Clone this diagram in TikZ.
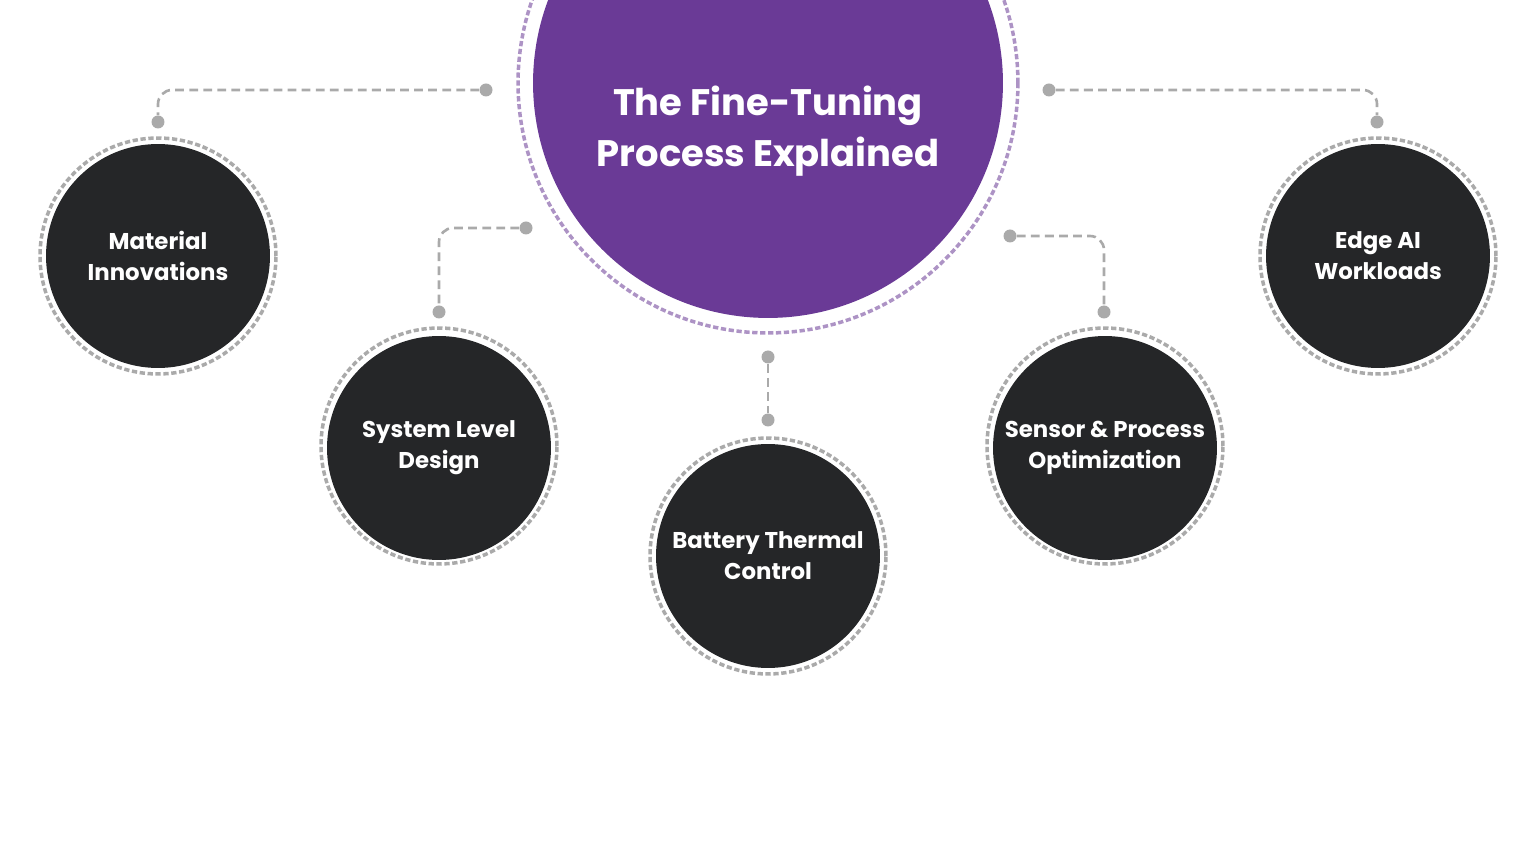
\documentclass[tikz,border=0pt]{standalone}
\usepackage{fontspec}
\setmainfont{Poppins}[BoldFont={* Bold}]
\usetikzlibrary{positioning}
\definecolor{hubpurple}{HTML}{6A3A96}
\definecolor{topicdark}{HTML}{252628}
\definecolor{linkgray}{HTML}{AAAAAA}

\begin{document}
\begin{tikzpicture}[
        x=0.02cm, y=-0.02cm,
        hub/.style={circle, fill=hubpurple, minimum size=9.4cm, inner sep=0pt},
        hubring/.style={circle, draw=hubpurple!55, line width=2pt, dash pattern=on 3pt off 1.5pt, minimum size=10cm, inner sep=0pt},
        title/.style={align=center, text=white, font=\bfseries\fontsize{21}{29}\selectfont},
        topic/.style={circle, fill=topicdark, minimum size=4.48cm, inner sep=0pt, align=center, text=white, font=\bfseries\fontsize{13}{17.6}\selectfont},
        ring/.style={circle, draw=linkgray, line width=2pt, dash pattern=on 3pt off 1.5pt, minimum size=4.72cm, inner sep=0pt},
        dot/.style={circle, fill=linkgray, minimum size=0.26cm, inner sep=0pt},
        link/.style={draw=linkgray, line width=1.5pt, dash pattern=on 5pt off 3pt, rounded corners=8pt}
    ]
        \useasboundingbox (0,0) rectangle (1536,864);

        % Central hub
        \node (hubRing) [hubring] at (768,83) {};
        \node (hub) [hub] at (768,83) {};
        \node (hubTitle) [title] at (768,131) {The Fine-Tuning\\Process Explained};

        % Topics
        \node (materialRing) [ring] at (158,256) {};
        \node (material) [topic] at (158,256) {Material\\Innovations};
        \node (systemRing) [ring] at (439,446) {};
        \node (system) [topic] at (439,448) {System Level\\Design};
        \node (batteryRing) [ring] at (768,556) {};
        \node (battery) [topic] at (768,556) {Battery Thermal\\Control};
        \node (sensorRing) [ring] at (1105,446) {};
        \node (sensor) [topic] at (1105,448) {Sensor \& Process\\Optimization};
        \node (edgeRing) [ring] at (1378,256) {};
        \node (edge) [topic] at (1378,256) {Edge AI\\Workloads};

        % Connector end points
        \node (materialFrom) [dot] at (486,90) {};
        \node (materialTo) [dot] at (158,122) {};
        \node (systemFrom) [dot] at (526,228) {};
        \node (systemTo) [dot] at (439,312) {};
        \node (batteryFrom) [dot] at (768,357) {};
        \node (batteryTo) [dot] at (768,420) {};
        \node (sensorFrom) [dot] at (1010,236) {};
        \node (sensorTo) [dot] at (1104,312) {};
        \node (edgeFrom) [dot] at (1049,90) {};
        \node (edgeTo) [dot] at (1377,122) {};

        % Connectors
        \draw [link] (materialFrom) -| (materialTo);
        \draw [link] (systemFrom) -| (systemTo);
        \draw [link] (batteryFrom) -- (batteryTo);
        \draw [link] (sensorFrom) -| (sensorTo);
        \draw [link] (edgeFrom) -| (edgeTo);
    \end{tikzpicture}
\end{document}
